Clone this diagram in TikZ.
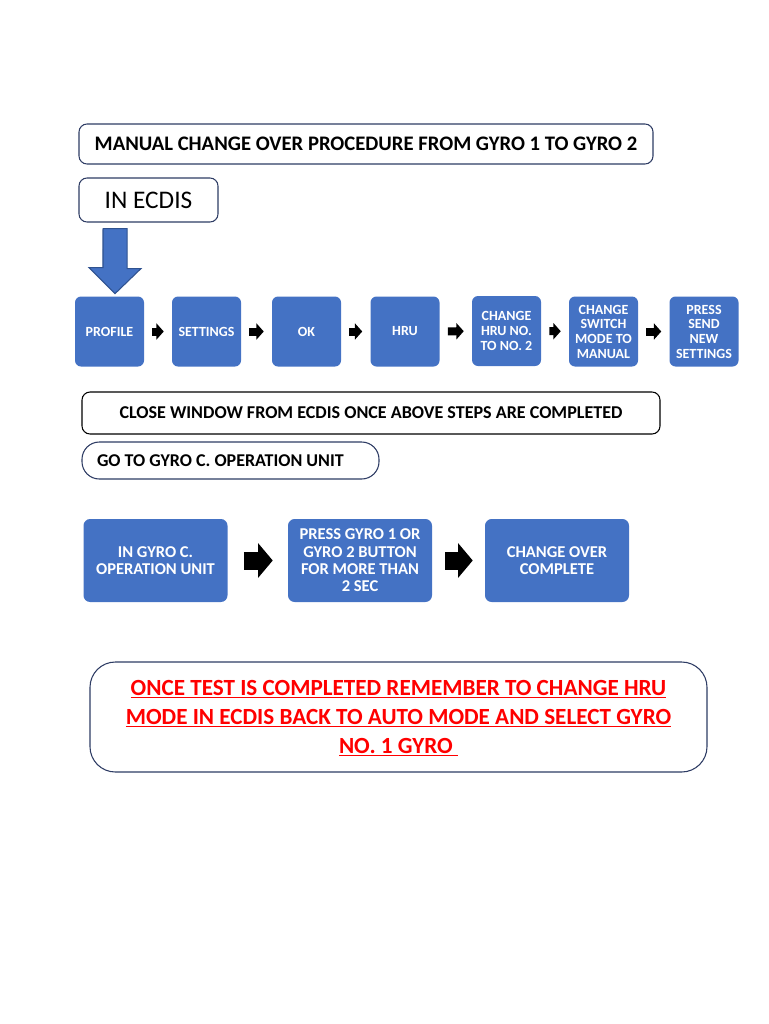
\documentclass[tikz,border=0pt]{standalone}
\usepackage{fontspec}
\setmainfont{Carlito}
\usetikzlibrary{arrows.meta,calc}

\definecolor{officeblue}{HTML}{4472C4}
\definecolor{darkblue}{HTML}{2F528F}
\definecolor{navyline}{HTML}{2E3C64}

\begin{document}
\begin{tikzpicture}[x=0.75pt,y=-0.75pt]

%-------------------------------------------------
% Styles
%-------------------------------------------------
\tikzset{
  notebox/.style={draw=navyline, fill=white, rounded corners=6pt, line width=0.8pt},
  stepbox/.style={fill=officeblue, rounded corners=4.5pt, text=white, align=center,
    minimum width=51.75pt, minimum height=52.5pt, inner sep=1pt,
    font=\fontsize{10.5}{11}\selectfont\bfseries},
  unitbox/.style={fill=officeblue, rounded corners=5pt, text=white, align=center,
    minimum width=108pt, minimum height=62.25pt, inner sep=2pt,
    font=\fontsize{12.4}{13}\selectfont\bfseries},
  smallarrow/.style={-{Triangle[width=12pt,length=5.5pt]}, line width=6pt, black,
    shorten <=6pt, shorten >=6pt},
  bigarrow/.style={-{Triangle[width=25.5pt,length=11pt]}, line width=13.5pt, black},
  downarrow/.style={fill=officeblue, draw=darkblue, line width=0.8pt}
}

% page frame
\useasboundingbox (0,0) rectangle (768,1024);

%-------------------------------------------------
% Header boxes
%-------------------------------------------------
\node[notebox, minimum width=430.5pt, minimum height=30pt,
  font=\fontsize{15.5}{16}\selectfont\bfseries] (title) at (366,144)
  {MANUAL CHANGE OVER PROCEDURE FROM GYRO 1 TO GYRO 2};

\node[notebox, minimum width=104.25pt, minimum height=33pt,
  font=\fontsize{19}{20}\selectfont] (ecdis) at (148.5,200) {IN ECDIS};

%-------------------------------------------------
% ECDIS steps
%-------------------------------------------------
\node[stepbox] (profile)  at (109.5,331.5) {PROFILE};
\node[stepbox] (settings) at (206.5,331.5) {SETTINGS};
\node[stepbox] (ok)       at (306.5,331.5) {OK};
\node[stepbox] (hru)      at (405,331.5)   {HRU};
\node[stepbox] (hruno)    at (506.5,331)   {CHANGE\\HRU NO.\\TO NO. 2};
\node[stepbox] (switch)   at (603.5,331.5) {CHANGE\\SWITCH\\MODE TO\\MANUAL};
\node[stepbox] (send)     at (704,331.5)   {PRESS\\SEND\\NEW\\SETTINGS};

\draw[smallarrow] (profile) -- (settings);
\draw[smallarrow] (settings) -- (ok);
\draw[smallarrow] (ok) -- (hru);
\draw[smallarrow] (hru) -- (hruno);
\draw[smallarrow] (hruno) -- (switch);
\draw[smallarrow] (switch) -- (send);

% Blue arrow from IN ECDIS down to PROFILE
\coordinate (dntop) at ([xshift=-25.1pt,yshift=-4.5pt]ecdis.south);
\coordinate (dntip) at ([xshift=4.1pt,yshift=1.9pt]profile.north);
\draw[downarrow] (dntop) ++(-12,0) -- ++(24,0) -- ++(0,40) -- ++(14,0)
  -- (dntip) -- ++(-26,-26) -- ++(14,0) -- cycle;

%-------------------------------------------------
% Middle notes
%-------------------------------------------------
\node[notebox, draw=black, minimum width=433.5pt, minimum height=31.5pt,
  font=\fontsize{13.55}{14}\selectfont\bfseries] (close) at (371,413)
  {CLOSE WINDOW FROM ECDIS ONCE ABOVE STEPS ARE COMPLETED};

\node[notebox, rounded corners=13pt, inner xsep=11.25pt, minimum height=27.75pt,
  font=\fontsize{13.5}{14}\selectfont\bfseries] (goto) at (230.5,460.5)
  {\makebox[200.25pt][l]{GO TO GYRO C. OPERATION UNIT}};

%-------------------------------------------------
% Gyro operation unit steps
%-------------------------------------------------
\node[unitbox] (unit)     at (155.5,560.5) {IN GYRO C.\\OPERATION UNIT};
\node[unitbox] (press)    at (360,560.5)   {PRESS GYRO 1 OR\\GYRO 2 BUTTON\\FOR MORE THAN\\2 SEC};
\node[unitbox] (complete) at (557,560.5)   {CHANGE OVER\\COMPLETE};

\draw[bigarrow, shorten <=12pt, shorten >=11.25pt] (unit) -- (press);
\draw[bigarrow, shorten <=9.75pt, shorten >=9pt] (press) -- (complete);

%-------------------------------------------------
% Reminder
%-------------------------------------------------
\node[notebox, rounded corners=19pt, minimum width=462.75pt, minimum height=82.5pt,
  align=center, text=red, text depth=0pt,
  font=\fontsize{17.35}{21.75}\selectfont\bfseries] (remind) at (398.5,717)
  {\underline{ONCE TEST IS COMPLETED REMEMBER TO CHANGE HRU}\\
   \underline{MODE IN ECDIS BACK TO AUTO MODE AND SELECT GYRO}\\
   \underline{NO. 1 GYRO\ }};

\end{tikzpicture}
\end{document}
